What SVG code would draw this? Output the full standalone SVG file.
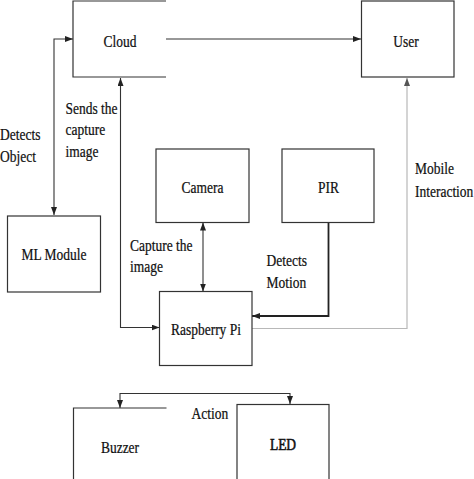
<svg xmlns="http://www.w3.org/2000/svg" width="474" height="479" viewBox="0 0 474 479">
<style>
.box{fill:#fff;stroke:#333;stroke-width:1.2}
.open{fill:none;stroke:#333;stroke-width:1.2}
.ln{fill:none;stroke:#333;stroke-width:1.1}
.thick{fill:none;stroke:#222;stroke-width:1.8}
.light{fill:none;stroke:#b8b8b8;stroke-width:1.2}
.t{font-family:'Liberation Serif',serif;font-size:17.5px;fill:#111;stroke:#111;stroke-width:0.25}
.c{text-anchor:middle}
</style>
<defs>
<marker id="ah" viewBox="0 0 8 6" refX="8" refY="3" markerWidth="8" markerHeight="6" markerUnits="userSpaceOnUse" orient="auto-start-reverse">
<path d="M0,0 L8,3 L0,6 Z" fill="#222"/>
</marker>
<marker id="ahl" viewBox="0 0 8 6" refX="8" refY="3" markerWidth="8" markerHeight="6" markerUnits="userSpaceOnUse" orient="auto">
<path d="M0,0 L8,3 L0,6 Z" fill="#555"/>
</marker>
</defs>
<rect width="474" height="479" fill="#fff"/>
<g id="connectors">
<line class="ln" x1="166" y1="39" x2="361" y2="39" marker-end="url(#ah)"/>
<path class="ln" d="M73,39 H54 V215" marker-start="url(#ah)" marker-end="url(#ah)"/>
<path class="ln" d="M120.5,78 V327.5 H159.5" marker-start="url(#ah)" marker-end="url(#ah)"/>
<line class="ln" x1="203" y1="222.5" x2="203" y2="291.5" marker-start="url(#ah)" marker-end="url(#ah)"/>
<path class="thick" d="M328.5,222.5 V316 H252" marker-end="url(#ah)"/>
<path class="light" d="M252,328.5 H407 V78" marker-end="url(#ahl)"/>
<path class="ln" d="M120,408 V393.5 H290 V404" marker-start="url(#ah)" marker-end="url(#ah)"/>
</g>
<g id="cloud">
<path class="open" d="M166,1 H73 V77 H166"/>
<text class="t c" transform="translate(120,46.5) scale(0.77,1)">Cloud</text>
</g>
<g id="user">
<rect class="box" x="361.5" y="1" width="92.5" height="76"/>
<text class="t c" transform="translate(406,46.5) scale(0.77,1)">User</text>
</g>
<g id="camera">
<rect class="box" x="156" y="149" width="93" height="73.5"/>
<text class="t c" transform="translate(202.5,192.5) scale(0.77,1)">Camera</text>
</g>
<g id="pir">
<rect class="box" x="282" y="149" width="92" height="73.5"/>
<text class="t c" transform="translate(328.5,193) scale(0.77,1)">PIR</text>
</g>
<g id="ml-module">
<rect class="box" x="7.5" y="216" width="93" height="76"/>
<text class="t c" transform="translate(54,260) scale(0.77,1)">ML Module</text>
</g>
<g id="raspberry-pi">
<rect class="box" x="159.5" y="291.5" width="92.5" height="74"/>
<text class="t" transform="translate(171,335) scale(0.77,1)">Raspberry Pi</text>
</g>
<g id="buzzer">
<path class="open" d="M166.5,408 H73.5 V480"/>
<text class="t c" transform="translate(120,453) scale(0.77,1)">Buzzer</text>
</g>
<g id="led">
<rect class="box" x="237" y="404.5" width="92" height="80"/>
<text class="t c" transform="translate(283,450) scale(0.77,1)" style="stroke-width:0.6">LED</text>
</g>
<g id="labels">
<text class="t" transform="translate(0,140) scale(0.77,1)">Detects</text>
<text class="t" transform="translate(0,162) scale(0.77,1)">Object</text>
<text class="t" transform="translate(65.5,113.5) scale(0.77,1)">Sends the</text>
<text class="t" transform="translate(65.5,135) scale(0.77,1)">capture</text>
<text class="t" transform="translate(65.5,157) scale(0.77,1)">image</text>
<text class="t" transform="translate(130,250.5) scale(0.77,1)">Capture the</text>
<text class="t" transform="translate(130,271.5) scale(0.77,1)">image</text>
<text class="t" transform="translate(266.5,266) scale(0.77,1)">Detects</text>
<text class="t" transform="translate(266.5,287.5) scale(0.77,1)">Motion</text>
<text class="t" transform="translate(415,173.5) scale(0.77,1)">Mobile</text>
<text class="t" transform="translate(415,196.5) scale(0.77,1)">Interaction</text>
<text class="t" transform="translate(191.5,419) scale(0.77,1)">Action</text>
</g>
</svg>
